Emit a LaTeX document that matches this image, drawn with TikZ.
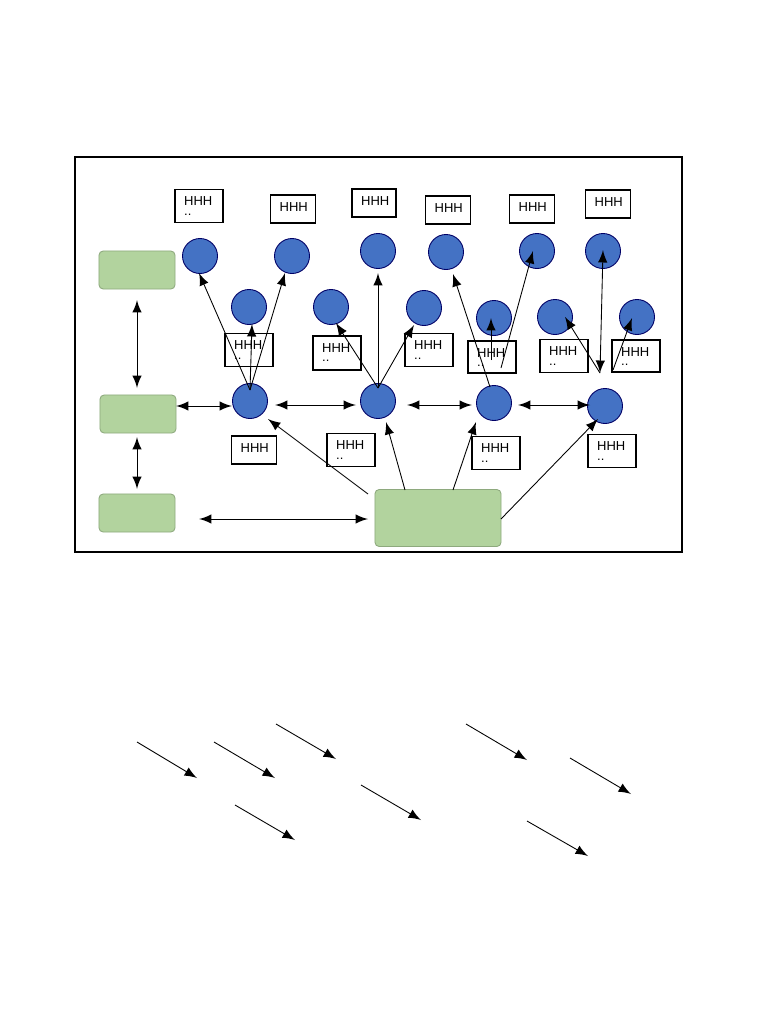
\documentclass[tikz,border=0pt]{standalone}
\usepackage{fontspec}
\setmainfont{Liberation Sans}
\begin{document}
\begin{tikzpicture}[x=0.01cm,y=-0.01cm,
  c/.style={circle,draw=blue!40!black,fill=cblue,line width=0.25pt,minimum size=35\pgflinewidth*0+0.35cm,inner sep=0},
  g/.style={rounded corners=1.2pt,draw=ggreen!80!black,fill=ggreen,line width=0.25pt},
  lb/.style={draw,line width=0.3pt,inner sep=0,font=\fontsize{3.7}{3.4}\selectfont,align=left},
  a/.style={-latex,line width=0.25pt},
  aa/.style={latex-latex,line width=0.25pt}]
\definecolor{cblue}{HTML}{4472C4}
\definecolor{ggreen}{HTML}{B2D39E}
\useasboundingbox (0,0) rectangle (768,1024);
\draw[line width=0.3pt] (75,157) rectangle (682,552);
\draw[line width=0.7pt] (75,157) -- (682,157);
% green boxes
\node[g,minimum width=0.76cm,minimum height=0.38cm] (g1) at (137,270) {};
\node[g,minimum width=0.76cm,minimum height=0.38cm] (g2) at (138,414) {};
\node[g,minimum width=0.76cm,minimum height=0.38cm] (g3) at (137,513) {};
\node[g,minimum width=1.26cm,minimum height=0.57cm] (big) at (438,518) {};
% circles
\foreach \n/\x/\y in {t1/200/256,t2/292/256,t3/378/251,t4/446/252,t5/537/251,t6/603/251,
  m1/249/307,m2/331/307,m3/424/308,m4/494/318,m5/555/317,m6/637/317,
  b1/250/401,b2/378/401,b3/494/403,b4/605/406}
  \node[c] (\n) at (\x,\y) {};
% label boxes
\newcommand\lbl[6]{\node[lb,minimum width=#3*0.01cm,minimum height=#4*0.01cm] (#1) at (#2) {};
  \node[font=\fontsize{3.7}{3.4}\selectfont,anchor=north west,inner sep=0,align=left] at ([xshift=9*0.01cm,yshift=-7*0.01cm]#1.north west) {#5\ifx#6y\\[-0.6pt]..\fi};}
\lbl{L1}{199,206}{48}{33}{HHH}{y}
\lbl{L2}{293,209}{45}{28}{HHH}{n}
\lbl{L3}{374,203}{44}{28}{HHH}{n}
\lbl{L4}{448,210}{45}{28}{HHH}{n}
\lbl{L5}{532,209}{45}{28}{HHH}{n}
\lbl{L6}{608,204}{45}{28}{HHH}{n}
\lbl{L7}{249,350}{48}{33}{HHH}{y}
\lbl{L8}{337,353}{48}{34}{HHH}{y}
\lbl{L9}{429,350}{48}{33}{HHH}{y}
\lbl{L10}{492,357}{48}{32}{HHH}{y}
\lbl{L11}{564,356}{48}{33}{HHH}{y}
\lbl{L12}{636,356}{48}{32}{HHH}{y}
\lbl{L13}{254,450}{45}{28}{HHH}{n}
\lbl{L14}{351,450}{48}{33}{HHH}{y}
\lbl{L15}{496,453}{48}{33}{HHH}{y}
\lbl{L16}{612,451}{48}{33}{HHH}{y}
% coordinates
\foreach \n/\x/\y in {p1/137/300,p2/137/388,p3/137/437,p4/137/489,p5/176/406,p6/232/406,p7/275/405,p8/356/405,
  p9/407/405,p10/472/405,p11/518/405,p12/590/405,p13/199/519,p14/368/519,
  q1/250/390,q2/199/273,q3/285/273,q4/252/324,
  r1/378/388,r2/378/273,r3/336/323,r4/414/325,
  s1/490/387,s2/453/274,s3/491/360,s4/491/318,s5/501/368,s6/533/251,
  u1/603/250,u2/600/373,u3/565/317,u4/613/370,u5/632/318,
  v1/368/494,v2/268/419,v3/405/490,v4/386/422,v5/453/490,v6/476/422,v7/501/519,v8/598/419,
  w1/137/742,w2/197/778,w3/214/742,w4/275/778,w5/276/724,w6/336/759,w7/235/805,w8/295/840,
  w9/361/785,w10/421/820,w11/466/724,w12/527/760,w13/570/758,w14/631/794,w15/527/821,w16/588/856}
  \coordinate (\n) at (\x,\y);
\foreach \s/\t in {p1/p2,p3/p4,p5/p6,p7/p8,p9/p10,p11/p12,p13/p14,u1/u2}
  \draw[aa] (\s) -- (\t);
\foreach \s/\t in {q1/q2,q1/q3,q1/q4,r1/r2,r1/r3,r1/r4,s1/s2,s3/s4,s5/s6,u2/u3,u4/u5,
  v1/v2,v3/v4,v5/v6,v7/v8,w1/w2,w3/w4,w5/w6,w7/w8,w9/w10,w11/w12,w13/w14,w15/w16}
  \draw[a] (\s) -- (\t);
\end{tikzpicture}
\end{document}
